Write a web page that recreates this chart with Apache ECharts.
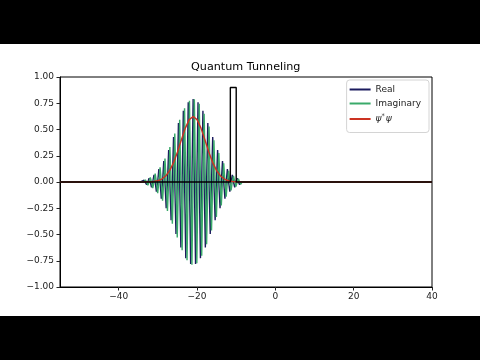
<!DOCTYPE html>
<html>
<head>
<meta charset="utf-8">
<script src="https://cdn.jsdelivr.net/npm/echarts@6/dist/echarts.min.js"></script>
<style>
html,body{margin:0;padding:0;background:#fff;}
#c{width:480px;height:360px;}
</style>
</head>
<body>
<div id="c"></div>
<script>
// ---- data ----
const titleText = 'Quantum Tunneling';
const seriesNames = ['Real', 'Imaginary', 'ψ*ψ'];
const xTicks = [-40, -20, 0, 20, 40];
const yTicks = [-1, -0.75, -0.5, -0.25, 0, 0.25, 0.5, 0.75, 1];

// sample positions across the wave packet (plus the ends of the axis)
const waveX = [-55, -34.5,
  -33.50, -33.19, -32.88, -32.56, -32.25, -31.94, -31.63, -31.31, -31.00, -30.69,
  -30.38, -30.06, -29.75, -29.44, -29.13, -28.81, -28.50, -28.19, -27.88, -27.56,
  -27.25, -26.94, -26.63, -26.31, -26.00, -25.69, -25.38, -25.06, -24.75, -24.44,
  -24.13, -23.81, -23.50, -23.19, -22.88, -22.56, -22.25, -21.94, -21.63, -21.31,
  -21.00,
  -20.69, -20.38, -20.06, -19.75, -19.44, -19.13, -18.81, -18.50, -18.19, -17.88,
  -17.56, -17.25, -16.94, -16.63, -16.31, -16.00, -15.69, -15.38, -15.06, -14.75,
  -14.44, -14.13, -13.81, -13.50, -13.19, -12.88, -12.56, -12.25, -11.94, -11.63,
  -11.31, -11.00, -10.69, -10.38, -10.06, -9.75, -9.44, -9.13, -8.81, -8.50,
  -7.5, 40];

const realVals = [0, 0,
  0.017, 0, -0.025, 0, 0.036, 0, -0.050, 0, 0.069, 0,
  -0.093, 0, 0.122, 0, -0.158, 0, 0.200, 0, -0.249, 0,
  0.305, 0, -0.365, 0, 0.429, 0, -0.495, 0, 0.561, 0,
  -0.623, 0, 0.678, 0, -0.725, 0, 0.760, 0, -0.782, 0,
  0.790,
  0, -0.782, 0, 0.760, 0, -0.725, 0, 0.678, 0, -0.623,
  0, 0.561, 0, -0.495, 0, 0.429, 0, -0.365, 0, 0.305,
  0, -0.249, 0, 0.200, 0, -0.158, 0, 0.122, 0, -0.093,
  0, 0.069, 0, -0.050, 0, 0.036, 0, -0.025, 0, 0.017,
  0, 0];

const imagVals = [0, 0,
  0, 0.021, 0, -0.030, 0, 0.043, 0, -0.059, 0, 0.080,
  0, -0.107, 0, 0.139, 0, -0.178, 0, 0.224, 0, -0.276,
  0, 0.334, 0, -0.397, 0, 0.462, 0, -0.528, 0, 0.592,
  0, -0.651, 0, 0.703, 0, -0.744, 0, 0.773, 0, -0.788,
  0,
  0.788, 0, -0.773, 0, 0.744, 0, -0.703, 0, 0.651, 0,
  -0.592, 0, 0.528, 0, -0.462, 0, 0.397, 0, -0.334, 0,
  0.276, 0, -0.224, 0, 0.178, 0, -0.139, 0, 0.107, 0,
  -0.080, 0, 0.059, 0, -0.043, 0, 0.030, 0, -0.021, 0,
  0, 0];

const probX = [-55, -34, -33, -32, -31, -30, -29, -28, -27, -26, -25, -24, -23, -22,
  -21, -20, -19, -18, -17, -16, -15, -14, -13, -12, -11, -10, -9, -8, 40];
const probVals = [0, 0.000, 0.001, 0.002, 0.005, 0.012, 0.028, 0.057, 0.108, 0.184,
  0.286, 0.402, 0.513, 0.594, 0.624, 0.594, 0.513, 0.402, 0.286, 0.184, 0.108,
  0.057, 0.028, 0.012, 0.005, 0.002, 0.001, 0.000, 0];

const potX = [-55, -11.5, -11.5, -10, -10, 40];
const potVals = [0, 0, 0.9, 0.9, 0, 0];

// ---- chart ----
const zip = (xs, ys) => xs.map((x, i) => [x, ys[i]]);
const FONT = 'DejaVu Sans';
const chart = echarts.init(document.getElementById('c'), null, {renderer: 'canvas'});
const fmtNum = v => (v < 0 ? '\u2212' : '') + Math.abs(v);
const fmtY = v => (v < 0 ? '\u2212' : '') + Math.abs(v).toFixed(2);

chart.setOption({
  animation: false,
  backgroundColor: '#ffffff',
  textStyle: {fontFamily: FONT},
  graphic: [
    {type: 'rect', left: 0, top: 0, shape: {width: 480, height: 44}, style: {fill: '#000'}, z: 100},
    {type: 'rect', left: 0, top: 316, shape: {width: 480, height: 44}, style: {fill: '#000'}, z: 100}
  ],
  title: {
    text: titleText, left: 186, top: 57,
    textStyle: {fontFamily: FONT, fontSize: 11.2, fontWeight: 'normal', color: '#000'}
  },
  legend: {
    orient: 'vertical', right: 51, top: 80,
    data: seriesNames,
    padding: [5, 8, 9, 2],
    itemGap: 5, itemWidth: 21, itemHeight: 11,
    itemStyle: {color: 'transparent', borderWidth: 0, opacity: 0},
    backgroundColor: 'rgba(255,255,255,0.85)',
    borderColor: '#d4d4d4', borderWidth: 1, borderRadius: 3,
    textStyle: {fontFamily: FONT, fontSize: 9, color: '#222',
      rich: {
        i: {fontFamily: FONT, fontSize: 9, fontStyle: 'italic', color: '#222'},
        s: {fontFamily: FONT, fontSize: 6.5, color: '#222', padding: [0, 1, 5, 0]}
      }
    },
    formatter: n => n === 'ψ*ψ' ? '{i|ψ}{s|*}{i|ψ}' : n
  },
  grid: {left: 60, right: 48, top: 77, bottom: 73, show: true,
    borderColor: '#000', borderWidth: 1, backgroundColor: 'transparent'},
  xAxis: {
    type: 'value', min: -55, max: 40,
    axisLine: {show: true, onZero: false, lineStyle: {color: '#000', width: 1}},
    axisTick: {show: true, length: 3.5, lineStyle: {color: '#222'}, customValues: xTicks},
    axisLabel: {fontFamily: FONT, fontSize: 9, color: '#222', margin: 5,
      customValues: xTicks, formatter: fmtNum},
    splitLine: {show: false}
  },
  yAxis: {
    type: 'value', min: -1, max: 1, interval: 0.25,
    axisLine: {show: true, onZero: false, lineStyle: {color: '#000', width: 1}},
    axisTick: {show: true, length: 3.5, lineStyle: {color: '#222'}},
    axisLabel: {fontFamily: FONT, fontSize: 9, color: '#222', margin: 6, formatter: fmtY},
    splitLine: {show: false}
  },
  series: [
    {name: seriesNames[0], type: 'line', data: zip(waveX, realVals), symbol: 'none',
      lineStyle: {color: '#1b1b5e', width: 1.4}, itemStyle: {color: '#1b1b5e'}, z: 2},
    {name: seriesNames[1], type: 'line', data: zip(waveX, imagVals), symbol: 'none',
      lineStyle: {color: '#3aaa6a', width: 1.4}, itemStyle: {color: '#5cc07a'}, z: 3},
    {name: seriesNames[2], type: 'line', data: zip(probX, probVals), symbol: 'none',
      lineStyle: {color: '#cc3322', width: 1.4}, itemStyle: {color: '#e0404a'}, z: 4},
    {name: 'V', type: 'line', data: zip(potX, potVals), symbol: 'none',
      lineStyle: {color: '#000', width: 1.4}, z: 5}
  ]
});
</script>
</body>
</html>
